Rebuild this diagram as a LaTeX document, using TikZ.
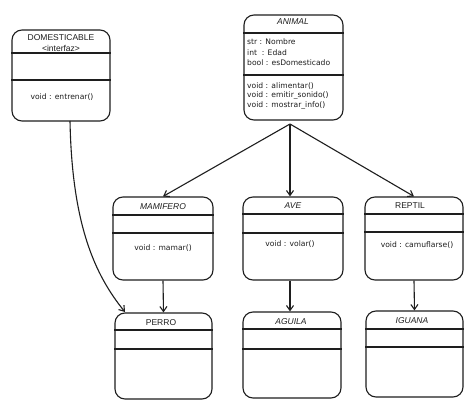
\documentclass[tikz,border=0pt]{standalone}
\usepackage{fontspec}
\setmainfont{Liberation Sans}
\newfontfamily\bodyfont{DejaVu Sans}
\usetikzlibrary{arrows.meta}
\newcommand{\umlbox}[7]{%
  \node[cls, minimum width={#4-#2}, minimum height={#5-#3}] (#1) at ({(#2+#4)/2},{(#3+#5)/2}) {};
  \draw[div] (#1.west |- 0,#6) -- (#1.east |- 0,#6);
  \draw[div] (#1.west |- 0,#7) -- (#1.east |- 0,#7);
}
\tikzset{
  cls/.style={draw=ink, line width=1.1pt, rounded corners=10pt, inner sep=0pt, fill=white},
  div/.style={draw=ink, line width=1.1pt},
  ttl/.style={text=ink, font=\fontsize{8.5}{10}\selectfont, inner sep=0pt},
  ttli/.style={ttl, font=\fontsize{8.5}{10}\selectfont\itshape},
  txt/.style={text=ink, font=\bodyfont\fontsize{7.6}{9}\selectfont, inner sep=0pt},
  arr/.style={draw=ink, line width=1.1pt, -{Straight Barb[length=5pt,width=7pt,line width=1.1pt]}},
}
\definecolor{ink}{HTML}{1E1E1E}
\begin{document}
\begin{tikzpicture}[x=1pt,y=-1pt]
\useasboundingbox (0,0) rectangle (474,406);
\fill[white] (0,0) rectangle (474,406);
% boxes
\umlbox{dom}{12}{30}{110}{121}{53}{80}
\umlbox{animal}{244}{15}{343}{120}{33}{75}
\umlbox{mam}{113}{197}{213}{280}{215}{233}
\umlbox{ave}{243}{197}{343}{280}{214}{233}
\umlbox{rep}{365}{197}{463}{280}{214}{232}
\umlbox{perro}{115}{313}{212}{399}{330}{349}
\umlbox{aguila}{243}{312}{341}{398}{329}{349}
\umlbox{iguana}{366}{311}{463}{397}{329}{347}
% texts
\node[ttl] (domt) at (61,38) {DOMESTICABLE};
\node[ttl] (domst) at (61,48) {\textless interfaz\textgreater};
\node[txt] (domm) at (62,97) {void : entrenar()};
\node[ttli] (animalt) at (293,22) {ANIMAL};
\node[txt, anchor=west] (a1) at (247,42) {str : Nombre};
\node[txt, anchor=west] (a2) at (247,52.5) {int \ : Edad};
\node[txt, anchor=west] (a3) at (247,63) {bool : esDomesticado};
\node[txt, anchor=west] (m1) at (247,86) {void : alimentar()};
\node[txt, anchor=west] (m2) at (247,96) {void : emitir\_sonido()};
\node[txt, anchor=west] (m3) at (247,106) {void : mostrar\_info()};
\node[ttli] (mamt) at (163,207) {MAMIFERO};
\node[txt] (mamm) at (163,248) {void : mamar()};
\node[ttli] (avet) at (293,206) {AVE};
\node[txt] (avem) at (290,244) {void : volar()};
\node[ttl] (rept) at (410,206) {REPTIL};
\node[txt] (repm) at (417,245) {void : camuflarse()};
\node[ttl] (perrot) at (161,323) {PERRO};
\node[ttli] (aguilat) at (291,322) {AGUILA};
\node[ttli] (iguanat) at (412,321) {IGUANA};
% connectors
\coordinate (hub) at (290,124);
\draw[arr] (hub) -- (mam.north);
\draw[arr] (hub) -- (ave.north -| hub);
\draw[arr] (hub) -- (rep.north);
\draw[arr] (mam.south) -- (perro.north);
\draw[arr] (ave.south -| hub) -- (aguila.north -| hub);
\draw[arr] (rep.south) -- (iguana.north);
\coordinate (domout) at (70,121);
\coordinate (perroin) at (125,312);
\draw[arr] (domout) .. controls (72,225) and (95,275) .. (perroin);
\end{tikzpicture}
\end{document}
